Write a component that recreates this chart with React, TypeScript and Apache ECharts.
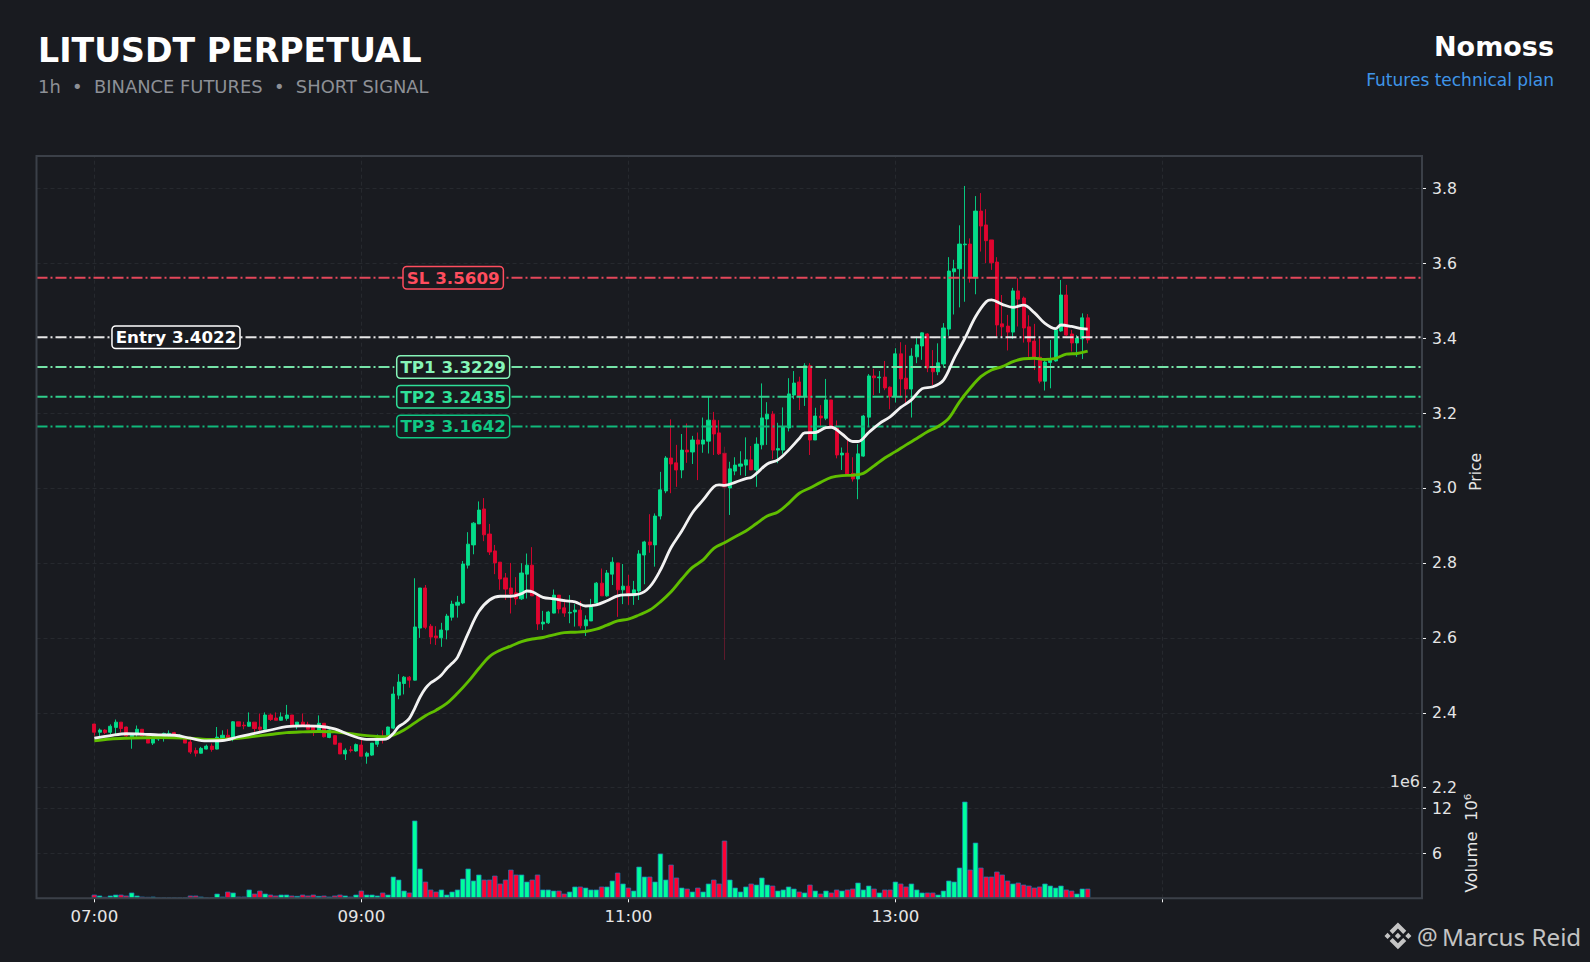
import React, { useEffect, useRef } from "react";
import * as echarts from "echarts";

const BG = "#191b20";
const FONT = "'DejaVu Sans', sans-serif";
const UP = "#04dd8a";
const DOWN = "#e0042f";
const VOL_UP = "#00ff9d";
const VOL_DOWN = "#ff0033";

// open, close, low, high
const candles: number[][] = [
[2.370,2.348,2.339,2.370],[2.348,2.354,2.336,2.358],[2.354,2.347,2.343,2.356],[2.348,2.364,2.342,2.369],[2.361,2.375,2.343,2.382],
[2.375,2.358,2.348,2.375],[2.362,2.338,2.336,2.363],[2.334,2.340,2.304,2.340],[2.345,2.356,2.336,2.366],[2.356,2.338,2.336,2.356],
[2.338,2.319,2.319,2.340],[2.319,2.330,2.314,2.338],[2.330,2.336,2.325,2.340],[2.336,2.345,2.323,2.347],[2.340,2.345,2.336,2.353],
[2.347,2.340,2.336,2.349],[2.338,2.340,2.336,2.343],[2.332,2.319,2.319,2.336],[2.322,2.295,2.290,2.332],[2.299,2.292,2.283,2.307],
[2.292,2.305,2.291,2.309],[2.303,2.311,2.302,2.315],[2.311,2.302,2.296,2.318],[2.303,2.335,2.302,2.362],[2.332,2.340,2.327,2.353],
[2.340,2.332,2.332,2.356],[2.333,2.376,2.324,2.378],[2.376,2.364,2.363,2.376],[2.367,2.365,2.356,2.376],[2.364,2.375,2.363,2.401],
[2.375,2.358,2.349,2.375],[2.362,2.356,2.345,2.398],[2.356,2.394,2.354,2.401],[2.394,2.382,2.378,2.398],[2.386,2.380,2.380,2.401],
[2.380,2.389,2.379,2.401],[2.385,2.394,2.379,2.421],[2.394,2.367,2.367,2.394],[2.367,2.375,2.356,2.375],[2.375,2.365,2.363,2.398],
[2.369,2.356,2.356,2.376],[2.362,2.354,2.338,2.362],[2.354,2.372,2.349,2.393],[2.372,2.336,2.334,2.372],[2.334,2.354,2.332,2.356],
[2.339,2.316,2.316,2.340],[2.319,2.290,2.290,2.319],[2.290,2.300,2.274,2.305],[2.301,2.299,2.294,2.311],[2.298,2.315,2.296,2.318],
[2.314,2.284,2.284,2.329],[2.284,2.292,2.264,2.296],[2.287,2.319,2.285,2.319],[2.316,2.332,2.309,2.342],[2.336,2.329,2.318,2.353],
[2.340,2.362,2.336,2.363],[2.359,2.450,2.356,2.470],[2.447,2.482,2.436,2.503],[2.478,2.495,2.449,2.498],[2.495,2.487,2.467,2.498],
[2.487,2.629,2.486,2.759],[2.626,2.733,2.600,2.733],[2.733,2.628,2.623,2.741],[2.631,2.602,2.583,2.637],[2.605,2.600,2.581,2.631],
[2.600,2.621,2.576,2.640],[2.621,2.658,2.596,2.664],[2.655,2.690,2.646,2.699],[2.687,2.695,2.654,2.712],[2.693,2.797,2.690,2.805],
[2.794,2.850,2.785,2.882],[2.848,2.906,2.823,2.909],[2.904,2.941,2.904,2.964],[2.944,2.875,2.858,2.973],[2.877,2.829,2.821,2.904],
[2.832,2.800,2.770,2.848],[2.802,2.757,2.728,2.802],[2.760,2.730,2.701,2.773],[2.733,2.717,2.665,2.800],[2.720,2.704,2.688,2.762],
[2.704,2.773,2.701,2.799],[2.770,2.794,2.705,2.825],[2.794,2.712,2.712,2.842],[2.712,2.637,2.621,2.712],[2.637,2.642,2.621,2.672],
[2.640,2.669,2.637,2.672],[2.666,2.714,2.665,2.729],[2.714,2.677,2.665,2.714],[2.680,2.666,2.656,2.704],[2.666,2.668,2.639,2.714],
[2.669,2.674,2.630,2.690],[2.674,2.632,2.625,2.698],[2.632,2.648,2.605,2.660],[2.645,2.683,2.645,2.704],[2.693,2.746,2.685,2.749],
[2.746,2.712,2.712,2.785],[2.712,2.773,2.710,2.781],[2.770,2.802,2.741,2.815],[2.800,2.728,2.656,2.800],[2.728,2.738,2.690,2.797],
[2.738,2.719,2.688,2.768],[2.712,2.728,2.688,2.752],[2.725,2.824,2.701,2.834],[2.821,2.856,2.743,2.859],[2.856,2.848,2.827,2.930],
[2.848,2.925,2.790,2.932],[2.925,2.995,2.916,3.043],[2.992,3.080,2.986,3.085],[3.080,3.064,2.986,3.183],[3.067,3.048,3.003,3.115],
[3.048,3.101,3.026,3.144],[3.101,3.096,3.067,3.172],[3.096,3.128,3.064,3.139],[3.128,3.117,3.021,3.148],[3.117,3.128,3.094,3.188],
[3.125,3.181,3.092,3.244],[3.181,3.144,3.088,3.203],[3.147,3.091,3.088,3.181],[3.093,3.002,2.541,3.110],[3.000,3.051,2.928,3.070],
[3.045,3.061,3.034,3.082],[3.058,3.064,3.034,3.098],[3.061,3.075,3.032,3.135],[3.075,3.048,3.048,3.112],[3.048,3.117,3.003,3.135],
[3.115,3.187,3.103,3.279],[3.184,3.197,3.115,3.229],[3.197,3.101,3.077,3.205],[3.101,3.105,3.066,3.174],[3.101,3.164,3.091,3.215],
[3.160,3.251,3.151,3.293],[3.248,3.280,3.237,3.312],[3.283,3.244,3.208,3.297],[3.244,3.326,3.219,3.333],[3.326,3.128,3.088,3.333],
[3.128,3.192,3.128,3.214],[3.192,3.187,3.164,3.221],[3.186,3.235,3.181,3.291],[3.235,3.164,3.159,3.235],[3.160,3.088,3.079,3.180],
[3.088,3.093,3.048,3.108],[3.093,3.035,3.034,3.128],[3.039,3.024,3.017,3.082],[3.024,3.091,2.970,3.117],[3.085,3.192,3.083,3.195],
[3.189,3.299,3.164,3.304],[3.299,3.294,3.248,3.318],[3.294,3.296,3.253,3.312],[3.296,3.267,3.261,3.339],[3.269,3.244,3.210,3.271],
[3.244,3.358,3.228,3.373],[3.358,3.291,3.244,3.389],[3.293,3.264,3.226,3.382],[3.264,3.352,3.188,3.373],[3.350,3.382,3.333,3.404],
[3.379,3.414,3.342,3.415],[3.411,3.320,3.309,3.413],[3.323,3.310,3.275,3.368],[3.310,3.334,3.301,3.386],[3.331,3.427,3.324,3.440],
[3.424,3.579,3.406,3.616],[3.577,3.585,3.463,3.609],[3.585,3.651,3.482,3.701],[3.649,3.651,3.497,3.806],[3.651,3.561,3.548,3.666],
[3.561,3.739,3.517,3.779],[3.739,3.699,3.631,3.787],[3.702,3.660,3.600,3.744],[3.662,3.601,3.582,3.662],[3.603,3.435,3.404,3.616],
[3.438,3.430,3.401,3.515],[3.432,3.416,3.367,3.462],[3.416,3.526,3.398,3.534],[3.526,3.504,3.431,3.560],[3.507,3.427,3.388,3.511],
[3.430,3.390,3.350,3.461],[3.392,3.346,3.315,3.438],[3.349,3.285,3.279,3.399],[3.285,3.336,3.260,3.346],[3.335,3.342,3.266,3.395],
[3.339,3.422,3.337,3.426],[3.419,3.515,3.417,3.555],[3.515,3.408,3.406,3.542],[3.411,3.387,3.364,3.422],[3.387,3.400,3.350,3.408],
[3.398,3.454,3.344,3.466],[3.454,3.395,3.386,3.464],
];

// volume in units of 1e6
const volumes: number[] = [
0.49,0.36,0.18,0.36,0.49,0.49,0.36,0.76,0.36,0.22,0.18,0.22,0.08,0.08,0.08,0.08,0.08,0.08,0.36,0.36,
0.22,0.1,0.1,0.62,0.22,0.89,0.76,0.22,0.22,1.16,0.62,1.02,0.62,0.49,0.36,0.49,0.49,0.36,0.31,0.49,
0.36,0.49,0.31,0.36,0.22,0.36,0.49,0.36,0.22,0.49,1.02,0.49,0.49,0.36,0.76,0.49,2.89,2.49,1.02,0.76,
10.36,3.96,2.22,1.16,0.89,1.16,0.49,0.89,1.16,2.62,3.96,2.36,3.16,2.49,2.49,3.02,1.96,2.49,3.82,3.16,
3.16,2.22,2.49,3.16,1.16,1.16,1.02,1.02,0.62,0.89,1.56,1.56,1.42,1.16,1.16,1.56,1.56,2.36,3.42,1.96,
1.42,1.02,4.22,2.89,2.89,2.22,5.96,2.49,4.49,2.76,1.42,1.29,0.89,1.42,0.89,1.96,2.49,1.96,7.69,2.49,
1.42,0.89,1.56,1.96,1.82,2.76,1.82,1.69,1.02,1.16,1.56,1.29,0.89,0.76,1.82,1.02,0.62,1.02,0.76,1.16,
1.02,1.16,1.29,2.09,1.16,1.69,1.29,0.76,1.16,1.16,2.22,1.96,1.56,1.96,1.16,0.76,0.76,0.76,0.49,1.02,
2.36,2.22,4.09,12.89,3.82,7.42,4.09,2.89,2.89,3.56,3.16,2.36,1.96,2.09,1.82,1.69,1.42,1.56,1.96,1.69,
1.42,1.69,1.16,1.02,0.62,1.29,1.29,
];

const fastMaPoints: number[][] = [
[0,2.332],[3,2.339],[6,2.344],[9,2.343],[12,2.341],[15,2.340],[18,2.332],[21,2.325],[24,2.326],[27,2.336],[30,2.345],[33,2.354],[36,2.363],[39,2.365],[42,2.364],[45,2.357],[48,2.340],[51,2.329],[54,2.329],[55,2.332],[56,2.345],
[57,2.363],[58,2.372],[59,2.385],[60,2.412],[61,2.442],[62,2.465],[63,2.480],[64,2.489],[65,2.501],[66,2.518],[67,2.532],[68,2.548],[70,2.612],[72,2.670],[74,2.701],[76,2.711],[78,2.711],[80,2.718],[81,2.725],[82,2.723],[84,2.708],[86,2.704],[88,2.699],[90,2.696],[92,2.685],[94,2.688],[96,2.699],[98,2.712],[100,2.715],[102,2.717],[104,2.736],[106,2.781],[108,2.841],[110,2.885],[112,2.934],[114,2.968],[116,3.003],[117,3.008],[118,3.007],[120,3.015],[122,3.025],[123,3.028],[124,3.039],[126,3.064],[128,3.075],[130,3.101],[132,3.132],[133,3.147],[135,3.148],[137,3.161],[138,3.162],[140,3.144],[142,3.124],[143,3.124],[145,3.148],[147,3.172],[149,3.190],[151,3.215],[153,3.235],[155,3.265],[157,3.270],[159,3.288],[161,3.346],[163,3.399],[165,3.457],[167,3.497],[168,3.502],[170,3.490],[172,3.482],[174,3.488],[176,3.468],[178,3.439],[180,3.425],[181,3.435],[183,3.431],[185,3.425],[186,3.424],
];

const slowMaPoints: number[][] = [
[0,2.325],[3,2.330],[6,2.332],[12,2.334],[18,2.332],[21,2.329],[24,2.329],[27,2.332],[30,2.337],[33,2.342],[36,2.347],[39,2.349],[42,2.350],[45,2.349],[48,2.344],[51,2.339],[54,2.336],[55,2.337],[56,2.340],[58,2.354],[60,2.373],[62,2.392],[64,2.407],[66,2.425],[68,2.452],[70,2.483],[72,2.518],[74,2.550],[76,2.567],[78,2.578],[80,2.590],[82,2.597],[84,2.601],[86,2.608],[88,2.614],[90,2.615],[92,2.617],[94,2.623],[96,2.634],[98,2.645],[100,2.650],[102,2.661],[104,2.674],[106,2.696],[108,2.723],[110,2.757],[112,2.788],[114,2.808],[116,2.839],[118,2.854],[120,2.870],[122,2.885],[124,2.905],[126,2.925],[128,2.936],[130,2.959],[132,2.986],[134,3.000],[136,3.015],[138,3.028],[140,3.033],[142,3.034],[144,3.039],[146,3.059],[148,3.080],[150,3.097],[152,3.115],[154,3.132],[156,3.150],[158,3.164],[160,3.186],[162,3.230],[164,3.266],[166,3.297],[168,3.315],[170,3.324],[172,3.337],[174,3.345],[176,3.346],[178,3.343],[180,3.346],[182,3.357],[184,3.359],[186,3.365],
];

const levelNames = ["SL 3.5609", "Entry 3.4022", "TP1 3.3229", "TP2 3.2435", "TP3 3.1642"];
const levelPrices = [3.5609, 3.4022, 3.3229, 3.2435, 3.1642];
const levelLineColors = ["#e4475a", "#e6e6e6", "#76e3a8", "#30cf8c", "#10b87a"];
const levelTextColors = ["#ff4d5e", "#ffffff", "#86f5b8", "#2fe098", "#10c884"];
const levelLabelX = [67.2, 15.3, 67.2, 67.2, 67.2];

const timeTickIndex = [0, 50, 100, 150, 200];
const timeTickLabels = ["07:00", "09:00", "11:00", "13:00", ""];
const priceTicks = [2.2, 2.4, 2.6, 2.8, 3.0, 3.2, 3.4, 3.6, 3.8];
const volumeTicks = [6, 12];

const BINANCE =
  "M38.171 53.203 62.759 28.616l24.6 24.6 14.307-14.307L62.759 0 23.864 38.896zM0 62.759l14.307-14.307 14.307 14.307-14.307 14.307zM38.171 72.314 62.759 96.902l24.6-24.6 14.315 14.3-.007.008-38.908 38.908L23.86 86.625l-.02-.02zm58.927-9.555 14.307-14.307 14.307 14.307-14.307 14.307zM77.27 62.752 62.759 48.24 52.03 58.97l-1.233 1.233-2.543 2.543-.02.02.02.02L62.76 77.28l14.51-14.51.007-.008z";

const X_MIN = -10.82;
const X_MAX = 248.6;
const LONG_WICK_INDEX = 118;

export default function App() {
  const ref = useRef<HTMLDivElement>(null);
  useEffect(() => {
    document.body.style.margin = "0";
    document.body.style.background = BG;
    echarts.graphic.registerShape("binanceLogo", echarts.graphic.extendPath(BINANCE, {}) as any);
    const chart = echarts.init(ref.current!, undefined, { renderer: "svg" });
    const vGrid = {
      silent: true,
      symbol: "none",
      z: 1,
      label: { show: false },
      lineStyle: { color: "#26292e", width: 1, type: [4, 3] as any },
      data: timeTickIndex.map((v) => ({ xAxis: v })),
    };
    const gridLine = { show: true, lineStyle: { color: "#26292e", width: 1, type: [4, 3] as any } };
    const axisTickStyle = { show: true, length: 4, lineStyle: { color: "#f0f0f0", width: 1 } };
    const hiddenLine = { show: false, onZero: false };
    const option: any = {
      animation: false,
      backgroundColor: BG,
      textStyle: { fontFamily: FONT },
      grid: [
        { left: 36.5, right: 168, top: 156, height: 631.7, containLabel: false },
        { left: 36.5, right: 168, top: 787.7, height: 110.6, containLabel: false },
      ],
      xAxis: [
        {
          type: "value", gridIndex: 0, min: X_MIN, max: X_MAX,
          axisLine: hiddenLine, axisTick: { show: false }, axisLabel: { show: false }, splitLine: { show: false },
        },
        {
          type: "value", gridIndex: 1, min: X_MIN, max: X_MAX,
          axisLine: hiddenLine,
          axisTick: { ...axisTickStyle, customValues: timeTickIndex },
          axisLabel: {
            show: true, color: "#e6e6e6", fontSize: 16.6, margin: 10, fontFamily: FONT,
            customValues: timeTickIndex,
            formatter: (v: number) => timeTickLabels[timeTickIndex.indexOf(v)] ?? "",
          },
          splitLine: { show: false },
        },
      ],
      yAxis: [
        {
          type: "value", gridIndex: 0, position: "right", min: 2.2, max: 3.886, interval: 0.2,
          axisLine: hiddenLine,
          axisTick: { ...axisTickStyle, customValues: priceTicks },
          axisLabel: {
            color: "#e6e6e6", fontSize: 15.7, margin: 10, fontFamily: FONT,
            customValues: priceTicks, formatter: (v: number) => v.toFixed(1),
          },
          splitLine: gridLine,
          name: "Price", nameLocation: "middle", nameGap: 41, nameRotate: 90,
          nameTextStyle: { color: "#e6e6e6", fontSize: 15.5, fontFamily: FONT },
        },
        {
          type: "value", gridIndex: 1, position: "right", min: 0, max: 14.75, interval: 6,
          axisLine: hiddenLine,
          axisTick: { ...axisTickStyle, customValues: volumeTicks },
          axisLabel: {
            color: "#e6e6e6", fontSize: 15.7, margin: 10, fontFamily: FONT,
            customValues: volumeTicks, formatter: (v: number) => String(v),
          },
          splitLine: gridLine,
          name: "Volume  10⁶", nameLocation: "middle", nameGap: 41, nameRotate: 90,
          nameTextStyle: { color: "#e6e6e6", fontSize: 16.4, fontFamily: FONT },
        },
      ],
      series: [
        {
          name: "Price", type: "candlestick", xAxisIndex: 0, yAxisIndex: 0, z: 2,
          barWidth: 3.6,
          itemStyle: { color: UP, color0: DOWN, borderColor: UP, borderColor0: DOWN, borderWidth: 0.9 },
          data: candles.map((c, i) => {
            const value = [i, c[0], c[1], c[2], c[3]];
            return i === LONG_WICK_INDEX
              ? { value, itemStyle: { color0: DOWN, borderColor0: "#7d1a30", borderWidth: 0.7 } }
              : value;
          }),
          markLine: vGrid,
        },
        ...levelNames.map((name, k) => ({
          name, type: "line", xAxisIndex: 0, yAxisIndex: 0, z: 3,
          showSymbol: false, symbol: "none",
          lineStyle: { color: levelLineColors[k], width: 2, type: [11, 3, 2, 3] },
          data: [[X_MIN, levelPrices[k]], [X_MAX, levelPrices[k]]],
          markPoint: {
            z: 10, silent: true, symbol: "rect", symbolSize: 0,
            label: {
              show: true, position: "inside", formatter: "{b}",
              color: levelTextColors[k], fontWeight: "bold", fontSize: 16.7, fontFamily: FONT,
              backgroundColor: BG, borderColor: levelTextColors[k], borderWidth: 1.5, borderRadius: 3,
              padding: [1, 3, 3, 3],
            },
            data: [{ name, coord: [levelLabelX[k], levelPrices[k]] }],
          },
        })),
        {
          name: "MA fast", type: "line", xAxisIndex: 0, yAxisIndex: 0, z: 5, showSymbol: false, symbol: "none",
          smooth: 0.35, lineStyle: { color: "#f2f2f2", width: 2.8 }, data: fastMaPoints,
        },
        {
          name: "MA slow", type: "line", xAxisIndex: 0, yAxisIndex: 0, z: 4, showSymbol: false, symbol: "none",
          smooth: 0.35, lineStyle: { color: "#60be00", width: 2.9 }, data: slowMaPoints,
        },
        {
          name: "Volume", type: "bar", xAxisIndex: 1, yAxisIndex: 1, z: 2, barWidth: 5.3,
          data: volumes.map((v, i) => ({
            value: [i, v],
            itemStyle: {
              color: candles[i][1] >= candles[i][0] ? VOL_UP : VOL_DOWN,
              borderColor: "#1f77b4", borderWidth: 0.7,
            },
          })),
          markLine: vGrid,
        },
      ],
      graphic: [
        {
          type: "rect", z: 20, silent: true,
          shape: { x: 36.5, y: 156, width: 1385.5, height: 742.3 },
          style: { fill: "none", stroke: "#3b4048", lineWidth: 2 },
        },
        { type: "text", z: 20, x: 38, y: 50, style: { text: "LITUSDT PERPETUAL", fill: "#ffffff", font: `bold 33.2px ${FONT}`, textAlign: "left", textVerticalAlign: "middle" } },
        { type: "text", z: 20, x: 38, y: 86, style: { text: "1h  •  BINANCE FUTURES  •  SHORT SIGNAL", fill: "#8d9096", font: `17.9px ${FONT}`, textAlign: "left", textVerticalAlign: "middle" } },
        { type: "text", z: 20, x: 1554, y: 46, style: { text: "Nomoss", fill: "#ffffff", font: `bold 27px ${FONT}`, textAlign: "right", textVerticalAlign: "middle" } },
        { type: "text", z: 20, x: 1554, y: 80, style: { text: "Futures technical plan", fill: "#3f95e8", font: `17px ${FONT}`, textAlign: "right", textVerticalAlign: "middle" } },
        { type: "text", z: 20, x: 1420, y: 781, style: { text: "1e6", fill: "#e0e0e0", font: `16px ${FONT}`, textAlign: "right", textVerticalAlign: "middle" } },
        { type: "binanceLogo", z: 20, x: 1384.5, y: 922.5, scaleX: 0.214, scaleY: 0.214, style: { fill: "#c4c4c4" } },
        { type: "text", z: 20, x: 1417, y: 936, style: { text: "@", fill: "#c4c4c4", font: `23px 'Noto Sans', sans-serif`, textAlign: "left", textVerticalAlign: "middle" } },
        { type: "text", z: 20, x: 1442, y: 936, style: { text: "Marcus Reid", fill: "#c4c4c4", font: `24.2px 'Noto Sans', sans-serif`, textAlign: "left", textVerticalAlign: "middle" } },
      ],
    };
    chart.setOption(option);
    return () => chart.dispose();
  }, []);
  return <div ref={ref} style={{ position: "absolute", left: 0, top: 0, width: 1590, height: 962 }} />;
}
